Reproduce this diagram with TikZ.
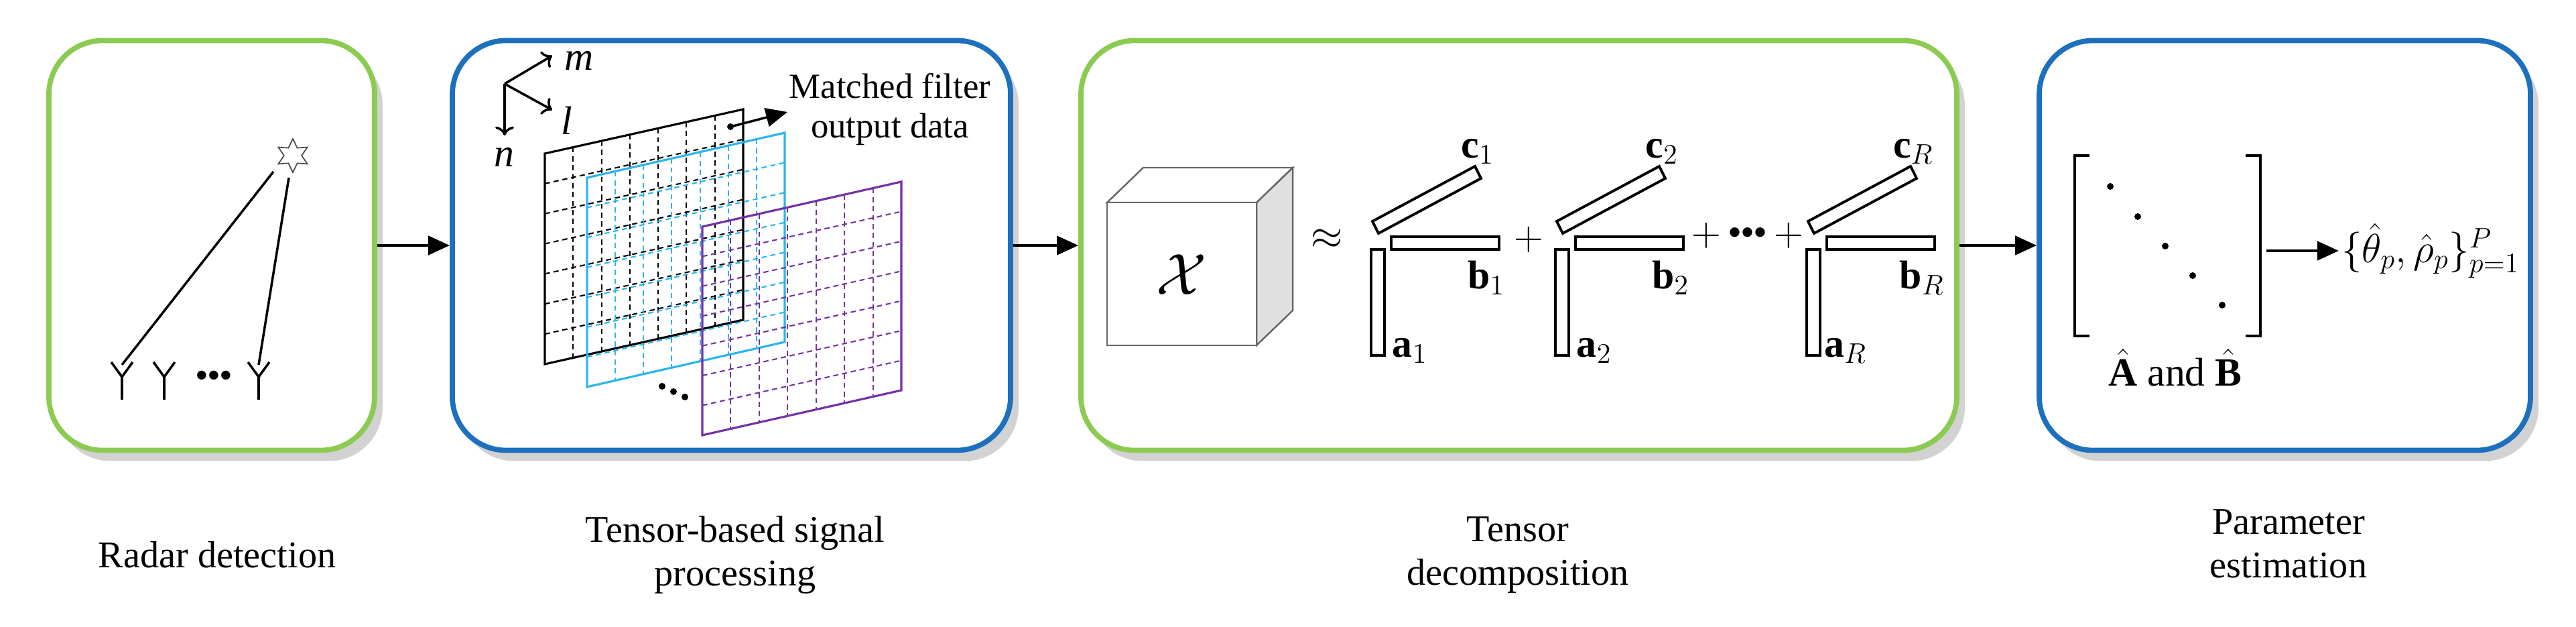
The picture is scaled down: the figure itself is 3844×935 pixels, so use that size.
\documentclass[tikz,border=0pt]{standalone}
\usepackage{amsmath}
\usepackage{fontspec}
\setmainfont{LiberationSerif}[Extension=.ttf,UprightFont=*-Regular,BoldFont=*-Bold,ItalicFont=*-Italic,BoldItalicFont=*-BoldItalic]
\newfontfamily\tnr{LiberationSerif}[Extension=.ttf,UprightFont=*-Regular,BoldFont=*-Bold,ItalicFont=*-Italic,BoldItalicFont=*-BoldItalic]
\usetikzlibrary{shapes.geometric,shadows,arrows.meta,calc}
\definecolor{bgreen}{HTML}{8CCB52}
\definecolor{bblue}{HTML}{1C70BE}
\definecolor{pcyan}{HTML}{2BB5EE}
\definecolor{ppurple}{HTML}{7432A6}
\tikzset{
 box/.style={draw, line width=2.2pt, rounded corners=8mm, fill=white,
   drop shadow={shadow xshift=1.2mm, shadow yshift=-1.6mm, fill=black!35, opacity=.5}},
 arr/.style={-{Triangle[length=3.2mm,width=2.8mm]}, line width=1.3pt},
 lab/.style={font=\tnr\fontsize{16}{18.5}\selectfont, align=center, inner sep=1pt},
 mlab/.style={font=\tnr\fontsize{17}{18}\selectfont, inner sep=1pt},
 bar/.style={draw, line width=1.1pt, fill=white},
 grd/.style={line width=0.6pt, dash pattern=on 2.2pt off 1.6pt},
}
\newcommand\myplane[6]{%
 \foreach \i in {1,...,6}{
  \draw[#1,grd] ({#2+\i/7*(#4-#2)},{#3+\i/7*(#5-#3)}) -- ({#2+\i/7*(#4-#2)},{#3+\i/7*(#5-#3)+#6});
  \draw[#1,grd] (#2,{#3+\i/7*#6}) -- (#4,{#5+\i/7*#6});
 }
 \draw[#1,line width=0.9pt] (#2,#3) -- (#4,#5) -- (#4,{#5+#6}) -- (#2,{#3+#6}) -- cycle;
}
\begin{document}
\begin{tikzpicture}[x=0.1mm,y=-0.1mm]
\useasboundingbox (0,0) rectangle (3844,935);
% boxes
\node[box, draw=bgreen, minimum width=48.6mm, minimum height=61.1mm] (B1) at (316,366) {};
\node[box, draw=bblue, minimum width=83.3mm, minimum height=61.1mm] (B2) at (1091.5,366) {};
\node[box, draw=bgreen, minimum width=130.7mm, minimum height=61.1mm] (B3) at (2266.5,366) {};
\node[box, draw=bblue, minimum width=73.3mm, minimum height=61.1mm] (B4) at (3409.5,366) {};
\draw[arr] (B1.east) -- (B2.west);
\draw[arr] (B2.east) -- (B3.west);
\draw[arr] (B3.east) -- (B4.west);
% captions
\node[lab] (L1) at (324,827) {Radar detection};
\node[lab] (L2) at (1097,828) {Tensor-based signal\\processing};
\node[lab] (L3) at (2265,828) {Tensor\\decomposition};
\node[lab] (L4) at (3415,811) {Parameter\\estimation};
% ---- radar
\node[star, star points=6, star point ratio=1.9, draw=black!70, line width=0.5pt, minimum size=5mm, inner sep=0pt] (S) at (437,232) {};
\foreach \x/\n in {182/a,245/b,386/c}{
 \coordinate (Y\n) at (\x,544);
 \draw[line width=1pt] (\x-16,540) -- (\x,562) -- (\x+16,540) (\x,562) -- (\x,596);
}
\node[font=\fontsize{16}{16}\selectfont, inner sep=0pt] (dots1) at (319,566) {\textbullet\kern-0.5pt\textbullet\kern-0.5pt\textbullet};
\draw[line width=1pt] (408,256) -- (Ya);
\draw[line width=1pt] (431,265) -- (Yc);
% ---- tensor planes
\coordinate (O) at (753,125);
\draw[->, line width=1pt] (O) -- (824,83);
\draw[->, line width=1pt] (O) -- (824,164);
\draw[->, line width=1pt] (O) -- (753,202);
\node[mlab] (m) at (864,90) {\textit{m}};
\node[mlab] (l) at (846,180) {\textit{l}};
\node[mlab] (n) at (752,234) {\textit{n}};
\myplane{black}{813}{229}{1109}{163}{314}
\myplane{pcyan}{876}{265}{1171}{198}{312}
\myplane{ppurple}{1048}{338}{1345}{271}{311}
\foreach \p/\q in {988/576,1005/584,1022/592} \fill (\p,\q) circle (0.5mm);
\fill (1090,189) circle (0.5mm) coordinate (mf);
\coordinate (mfe) at (1175,167);
\draw[arr, line width=1pt] (mf) -- (mfe);
\node[lab, font=\tnr\fontsize{15}{17}\selectfont] (mft) at (1328,163) {Matched filter\\output data};
% ---- tensor decomposition
\draw[black!60, line width=0.7pt, fill=black!12] (1875,302) -- (1929,250) -- (1929,463) -- (1875,515) -- cycle;
\draw[black!60, line width=0.7pt, fill=white] (1652,302) -- (1706,250) -- (1929,250) -- (1875,302) -- cycle;
\draw[black!60, line width=0.7pt, fill=white] (1652,302) rectangle (1875,515);
\node[font=\fontsize{26}{26}\selectfont] (X) at (1763,410) {$\mathcal{X}$};
\node[mlab] (approx) at (1980,357) {$\approx$};
\foreach \o/\s in {0/1,275/2,650/R}{
 \draw[bar] (2046+\o,372) rectangle (2066+\o,530);
 \draw[bar] (2076+\o,353) rectangle (2237+\o,372);
 \draw[bar] (2048+\o,330) -- (2201+\o,248) -- (2210+\o,266) -- (2057+\o,348) -- cycle;
 \node[mlab] (c\s) at (2205+\o,226) {$\mathbf{c}_{\s}$};
 \node[mlab] (b\s) at (2218+\o,414) {$\mathbf{b}_{\s}$};
 \node[mlab] (a\s) at (2104+\o,523) {$\mathbf{a}_{\s}$};
}
\node[mlab] (p1) at (2281,357) {$+$};
\node[mlab] (p2) at (2608,351) {$+$\,\textbullet\kern-0.5pt\textbullet\kern-0.5pt\textbullet\,$+$};
% ---- parameter estimation
\draw[line width=1.1pt] (3118,232) -- (3096,232) -- (3096,501) -- (3118,501);
\draw[line width=1.1pt] (3351,232) -- (3373,232) -- (3373,501) -- (3351,501);
\foreach \p/\q in {3149/278,3190/323,3231/367,3272/411,3316/455} \fill (\p,\q) circle (0.5mm);
\node[mlab] (AB) at (3246,548) {$\hat{\mathbf{A}}$ and $\hat{\mathbf{B}}$};
\coordinate (ms) at (3382,374);
\node[mlab, anchor=west] (res) at (3490,374) {$\{\hat{\theta}_p,\hat{\rho}_p\}_{p=1}^{P}$};
\draw[arr] (ms) -- (res.west);
\end{tikzpicture}
\end{document}
